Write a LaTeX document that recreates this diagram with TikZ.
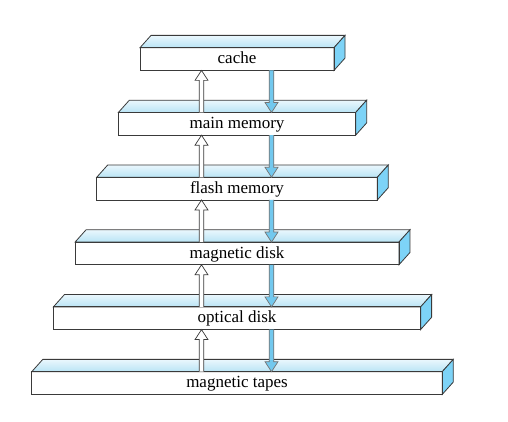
\documentclass[tikz,border=0pt]{standalone}
\usepackage{fontspec}
\setmainfont{Liberation Serif}
\usetikzlibrary{calc}
\definecolor{sideblue}{HTML}{7DD3F7}
\definecolor{topback}{HTML}{EAF7FD}
\definecolor{topfront}{HTML}{B9E4F5}
\definecolor{arrblue}{HTML}{72C8EE}
\definecolor{edge}{HTML}{3A3A3A}
\begin{document}
\begin{tikzpicture}[x=1pt,y=1pt,
  level/.style={draw=edge, line width=0.8pt, fill=white, minimum height=22.7pt,
    inner sep=0pt, outer sep=0pt, text height=12.4pt, text depth=3pt,
    font=\fontsize{17}{20}\selectfont},
  topface/.style={draw=edge, line width=0.8pt, top color=topback, bottom color=topfront},
  sideface/.style={draw=edge, line width=0.8pt, fill=sideblue},
  uparr/.style={draw=edge, line width=0.7pt, fill=white},
  downarr/.style={draw=black!55, line width=0.7pt, fill=arrblue}]
\useasboundingbox (0,0) rectangle (508,422);
\def\dx{11}\def\dy{12.3}
\foreach \name/\txt/\i in {c/cache/0, m/main memory/1, f/flash memory/2, d/magnetic disk/3, o/optical disk/4, t/magnetic tapes/5}{
  \pgfmathsetmacro\w{194+43.3*\i}
  \pgfmathsetmacro\yy{362.95-64.8*\i}
  \node[level, minimum width=\w pt] (\name) at (237,\yy) {\txt};
  \path[topface] (\name.north west) -- ++(\dx,\dy) -- ($(\name.north east)+(\dx,\dy)$) -- (\name.north east) -- cycle;
  \path[sideface] (\name.north east) -- ++(\dx,\dy) -- ++(0,-22.7) -- (\name.south east) -- cycle;
  \draw[draw=edge, line width=0.8pt] (\name.north west) rectangle (\name.south east);
}
\foreach \lo/\up in {m/c, f/m, d/f, o/d, t/o}{
  \draw[uparr] let \p1=($(\lo.north)+(-35.5,0)$), \p2=($(\up.south)+(-35.5,0)$) in
    (\x1-2.3pt,\y1) -- (\x1-2.3pt,\y2-10pt) -- (\x1-6.5pt,\y2-10pt) -- (\x1,\y2)
    -- (\x1+6.5pt,\y2-10pt) -- (\x1+2.3pt,\y2-10pt) -- (\x1+2.3pt,\y1);
  \draw[downarr] let \p1=($(\up.south)+(34.5,0)$), \p2=($(\lo.north)+(34.5,0)$) in
    (\x1-2.3pt,\y1) -- (\x1-2.3pt,\y2+10pt) -- (\x1-6.5pt,\y2+10pt) -- (\x1,\y2)
    -- (\x1+6.5pt,\y2+10pt) -- (\x1+2.3pt,\y2+10pt) -- (\x1+2.3pt,\y1);
}
\end{tikzpicture}
\end{document}
